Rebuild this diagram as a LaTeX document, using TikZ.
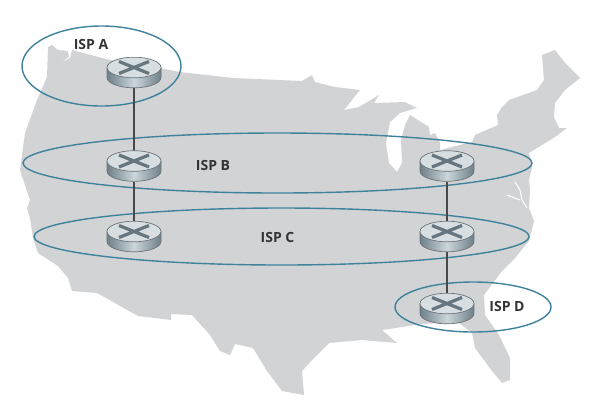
\documentclass[tikz,border=0pt]{standalone}
\usepackage{fontspec}
\setmainfont{Open Sans}
\usetikzlibrary{shapes.geometric}
\pgfdeclarelayer{bg}
\pgfsetlayers{bg,main}
\definecolor{mapgray}{HTML}{D2D3D5}
\definecolor{ispblue}{HTML}{3F829C}
\definecolor{linkgray}{HTML}{484848}
\definecolor{rtop}{HTML}{D6DEE2}
\definecolor{rdark}{HTML}{6F8089}
\definecolor{rlight}{HTML}{CBD6DA}
\definecolor{redge}{HTML}{6A7378}
\definecolor{rcross}{HTML}{66767E}
\definecolor{labeltext}{HTML}{333333}
\tikzset{
  routernode/.style={minimum width=55pt,minimum height=31pt,inner sep=0pt,outer sep=0pt,
    path picture={
      \begin{scope}[shift={(path picture bounding box.center)}]
        \path[left color=rdark,right color=rdark,middle color=rlight]
          (-27,-5) -- (-27,5) arc[start angle=180,end angle=0,x radius=27,y radius=10.3] -- (27,-5) -- cycle;
        \draw[redge,line width=0.7pt]
          (-27,-5) -- (-27,5) arc[start angle=180,end angle=0,x radius=27,y radius=10.3] -- (27,-5);
        \draw[redge,line width=0.7pt,fill=rtop] (0,-5) ellipse[x radius=27,y radius=10.3];
        \draw[rcross,line width=3.2pt] (-15,-11) -- (15,1) (15,-11) -- (-15,1);
      \end{scope}
    }},
  isparea/.style={draw=ispblue,line width=1.4pt,ellipse,inner sep=0pt,outer sep=0pt},
  link/.style={draw=linkgray,line width=1.2pt},
  isplabel/.style={text=labeltext,font=\bfseries\fontsize{14}{14}\selectfont,inner sep=0pt}
}
\begin{document}
\begin{tikzpicture}[x=1pt,y=-1pt]
\useasboundingbox (0,0) rectangle (604,416);
\node[routernode] (ra) at (134,72.5) {};
\node[routernode] (rb) at (134,166) {};
\node[routernode] (rc) at (134,236.5) {};
\node[routernode] (re) at (447,166) {};
\node[routernode] (rf) at (447,236.5) {};
\node[routernode] (rd) at (447,308.5) {};
\begin{pgfonlayer}{bg}
\fill[mapgray] (48,47) -- (52,45) -- (58,50) -- (68,51) -- (69,57) -- (60,63) -- (70,58) -- (72,50)
 -- (110,60) -- (160,68) -- (180,72) -- (233,78) -- (302,81) -- (312,75) -- (315,82) -- (335,87)
 -- (360,90) -- (344,110) -- (359,107) -- (379,95) -- (374,103) -- (405,102) -- (417,108)
 -- (400,113) -- (390,122) -- (386,143) -- (389,163) -- (397,172) -- (402,163) -- (401,140) -- (405,125) -- (410,115)
 -- (429,127) -- (430,135) -- (435,133) -- (440,143) -- (440,150) -- (472,142) -- (475,135) -- (498,125)
 -- (497,115) -- (502,107) -- (509,100) -- (537,90) -- (544,80) -- (542,55) -- (555,50) -- (565,63)
 -- (580,78) -- (565,90) -- (555,103) -- (554,117) -- (559,128) -- (567,128) -- (555,137) -- (529,153)
 -- (532,167) -- (529,180) -- (530,190) -- (529,208) -- (534,221) -- (529,241) -- (515,258) -- (502,271)
 -- (484,295) -- (485,315) -- (499,335) -- (510,358) -- (510,380) -- (502,383) -- (492,371) -- (475,348)
 -- (472,333) -- (459,323) -- (435,323) -- (415,325) -- (382,330) -- (397,343) -- (362,340) -- (329,343)
 -- (312,360) -- (302,371) -- (304,395) -- (282,391) -- (267,371) -- (253,348) -- (235,344) -- (230,355)
 -- (220,351) -- (210,335) -- (192,315) -- (171,314) -- (171,320) -- (138,316) -- (97,293) -- (72,291)
 -- (68,278) -- (58,266) -- (38,253) -- (33,238) -- (30,218) -- (27,208) -- (30,200) -- (20,170)
 -- (25,133) -- (37,100) -- (47,77) -- cycle;
\draw[white,line width=1pt] (515,182) -- (520,190) -- (522,200) -- (527,208) (507,195) -- (520,200);
\node[isparea,minimum width=159pt,minimum height=80pt] (ispa) at (101.5,66) {};
\node[isparea,minimum width=509pt,minimum height=60pt] (ispb) at (277.5,163) {};
\node[isparea,minimum width=495pt,minimum height=57pt] (ispc) at (281.5,236.5) {};
\node[isparea,minimum width=156pt,minimum height=50pt] (ispd) at (473,307) {};
\draw[link] (ra.south) -- (rb.north);
\draw[link] (rb.south) -- (rc.north);
\draw[link] (re.south) -- (rf.north);
\draw[link] (rf.south) -- (rd.north);
\end{pgfonlayer}
\node[isplabel] (la) at (91,44) {ISP A};
\node[isplabel] (lb) at (213,165) {ISP B};
\node[isplabel] (lc) at (277.5,237) {ISP C};
\node[isplabel] (ld) at (507,306) {ISP D};
\end{tikzpicture}
\end{document}
